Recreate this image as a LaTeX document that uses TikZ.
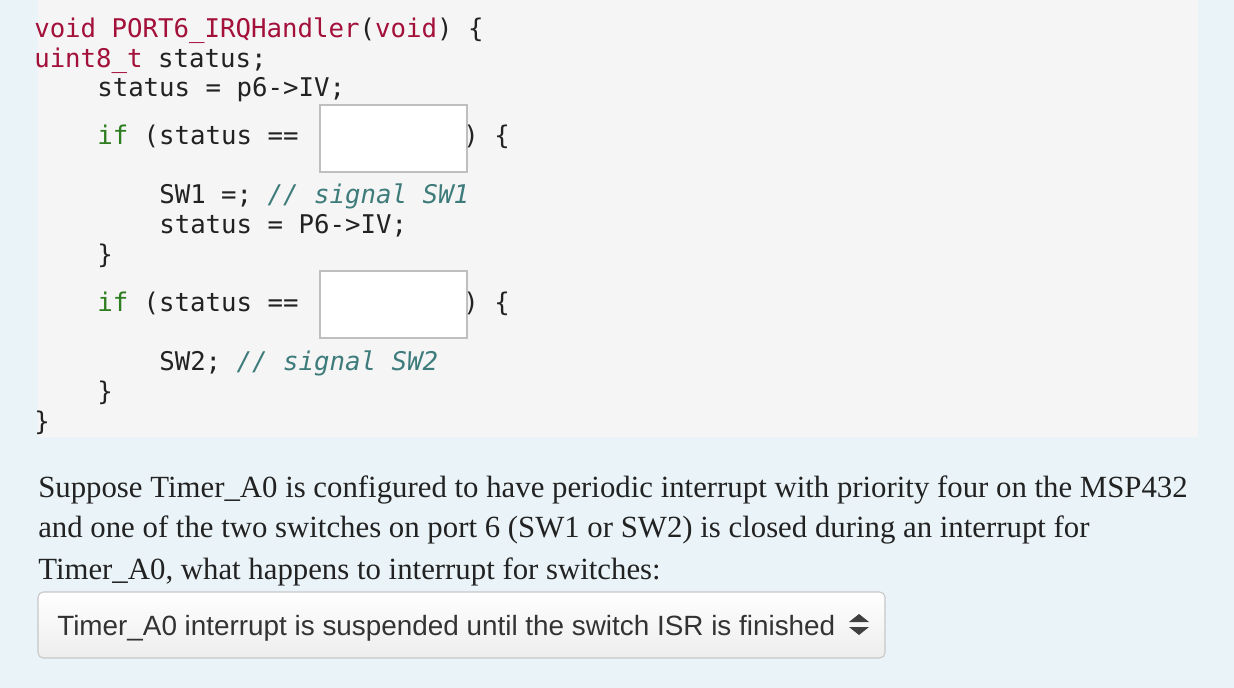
\documentclass[tikz,border=0pt]{standalone}
\usepackage{fontspec}
\setmonofont{DejaVu Sans Mono}
\setmainfont{Liberation Serif}
\setsansfont{Liberation Sans}
\definecolor{bgblue}{HTML}{EAF4F8}
\definecolor{codebg}{HTML}{F5F5F5}
\definecolor{kwred}{HTML}{A3103A}
\definecolor{kwgreen}{HTML}{2E7D1E}
\definecolor{cmt}{HTML}{3E7B7B}
\definecolor{txt}{HTML}{222222}
\begin{document}
\begin{tikzpicture}[x=0.75pt,y=-0.75pt,
  code/.style={anchor=base west,inner sep=0pt,font=\ttfamily\fontsize{19.3}{23}\selectfont,text=txt},
  para/.style={anchor=base west,inner sep=0pt,font=\fontsize{23.1}{27}\selectfont,text=txt},
  inbox/.style={draw=black!25,fill=white,line width=0.8pt}]
\fill[bgblue] (0,0) rectangle (1234,688);
\useasboundingbox (0,0) rectangle (1234,688);
\fill[codebg] (38,0) rectangle (1198,437);
\node[code] (l1) at (34,38) {\textcolor{kwred}{void} \textcolor{kwred}{PORT6\_IRQHandler}(\textcolor{kwred}{void}) \{};
\node[code] (l2) at (34,68) {\textcolor{kwred}{uint8\_t} status;};
\node[code] (l3) at (97,97) {status = p6->IV;};
\node[code] (l4) at (97,145) {\textcolor{kwgreen}{if} (status ==};
\draw[inbox] (320,105) rectangle (467,172);
\node[code] (l4b) at (463,145) {) \{};
\node[code] (l5) at (159,203) {SW1 =; \textcolor{cmt}{\itshape // signal SW1}};
\node[code] (l6) at (159,233) {status = P6->IV;};
\node[code] (l7) at (97,263) {\}};
\draw[inbox] (320,271) rectangle (467,338);
\node[code] (l8) at (97,311) {\textcolor{kwgreen}{if} (status ==};
\node[code] (l8b) at (463,311) {) \{};
\node[code] (l9) at (159,370) {SW2; \textcolor{cmt}{\itshape // signal SW2}};
\node[code] (l10) at (97,400) {\}};
\node[code] (l11) at (34,430) {\}};
\node[para] (p1) at (38,497) {Suppose Timer\_A0 is configured to have periodic interrupt with priority four on the MSP432};
\node[para] (p2) at (38,537) {and one of the two switches on port 6 (SW1 or SW2) is closed during an interrupt for};
\node[para] (p3) at (38,579) {Timer\_A0, what happens to interrupt for switches:};
\draw[draw=black!22,top color=white,bottom color=black!7,rounded corners=4pt,line width=0.8pt] (38,592) rectangle (885,658);
\node[anchor=base west,inner sep=0pt,font=\sffamily\fontsize{20.9}{24}\selectfont,text=black!80] (dd) at (57,635) {Timer\_A0 interrupt is suspended until the switch ISR is finished};
\fill[black!75] (849,622) -- (859,614) -- (869,622) -- cycle;
\fill[black!75] (849,627) -- (859,635) -- (869,627) -- cycle;
\end{tikzpicture}
\end{document}
